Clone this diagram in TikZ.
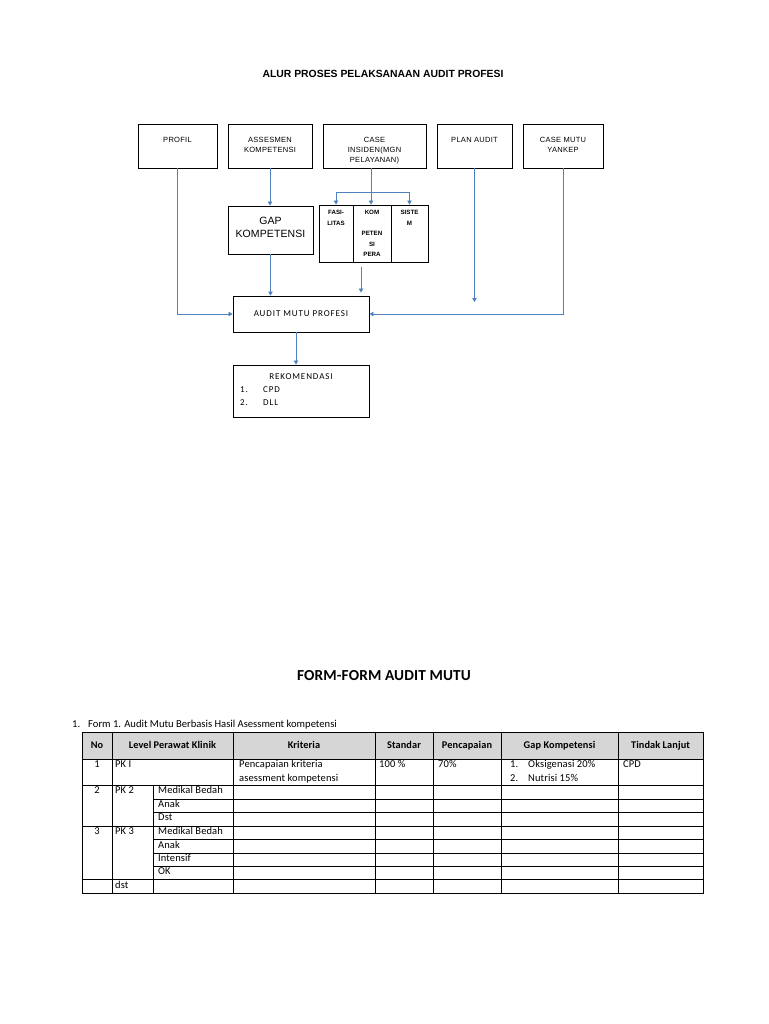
\documentclass[tikz,border=0pt]{standalone}
\usepackage{fontspec}
\setmainfont{Liberation Sans}
\newfontfamily\calibri[LetterSpace=1]{Carlito}
\newfontfamily\calibrisp[LetterSpace=10]{Carlito}
\newfontfamily\arialsp[LetterSpace=4]{Liberation Sans}
\newfontfamily\arialgap[LetterSpace=1]{Liberation Sans}
\usetikzlibrary{arrows.meta,calc}
\definecolor{arrblue}{HTML}{4F81BD}
\definecolor{hdrgray}{HTML}{D6D6D6}

\begin{document}
\begin{tikzpicture}[x=1pt,y=-1pt,
  box/.style={draw,line width=0.9pt,inner sep=0pt},
  toplbl/.style={anchor=north,inner sep=0pt,yshift=-13.5pt,align=center,font=\arialsp\fontsize{7.5}{10}\selectfont},
  gaplbl/.style={anchor=north,inner sep=0pt,yshift=-11.5pt,align=center,font=\arialgap\fontsize{10.5}{13}\selectfont},
  tinylbl/.style={anchor=north,inner sep=0pt,yshift=-5.5pt,align=center,font=\bfseries\fontsize{6.2}{10.5}\selectfont},
  ftxt/.style={inner sep=0pt,font=\calibrisp\fontsize{9}{11}\selectfont},
  arr/.style={draw=arrblue,line width=0.8pt,-{Triangle[length=4pt,width=4.5pt]}},
  tbl/.style={line width=0.8pt},
  cell/.style={anchor=mid west,inner sep=0pt,font=\calibri\fontsize{10.5}{12}\selectfont},
  hcell/.style={anchor=mid,inner sep=0pt,font=\calibri\bfseries\fontsize{10.3}{12}\selectfont}]
\fill[white] (0,0) rectangle (768,1024);
\useasboundingbox (0,0) rectangle (768,1024);

\node[font=\bfseries\fontsize{10.4}{12}\selectfont] (title) at (383,74) {ALUR PROSES PELAKSANAAN AUDIT PROFESI};

% top row
\node[box,minimum width=79pt,minimum height=44pt,label={[toplbl]north:PROFIL}] (profil) at (177.5,146) {};
\node[box,minimum width=84pt,minimum height=44pt,label={[toplbl]north:{ASSESMEN\\KOMPETENSI}}] (assesmen) at (270,146) {};
\node[box,minimum width=103pt,minimum height=44pt,label={[toplbl]north:{CASE\\INSIDEN(MGN\\PELAYANAN)}}] (case) at (374.5,146) {};
\node[box,minimum width=75pt,minimum height=44pt,label={[toplbl]north:PLAN AUDIT}] (plan) at (474.5,146) {};
\node[box,minimum width=80pt,minimum height=44pt,label={[toplbl]north:{CASE MUTU\\YANKEP}}] (casemutu) at (563,146) {};

% second row
\node[box,minimum width=85pt,minimum height=48pt,label={[gaplbl]north:{GAP\\KOMPETENSI}}] (gap) at (270.5,230) {};
\node[box,minimum width=34pt,minimum height=57pt,label={[tinylbl]north:{FASI-\\LITAS}}] (fasi) at (336,233.5) {};
\node[box,minimum width=38pt,minimum height=57pt,label={[tinylbl]north:{KOM\\[10.5pt]PETEN\\SI\\PERA}}] (kom) at (372,233.5) {};
\node[box,minimum width=37pt,minimum height=57pt,label={[tinylbl]north:{SISTE\\M}}] (sistem) at (409.5,233.5) {};

% audit and rekomendasi
\node[box,minimum width=136pt,minimum height=36pt,ftxt] (audit) at (301,314) {AUDIT MUTU PROFESI};
\node[box,minimum width=136pt,minimum height=52pt] (rekom) at (301,391) {};
\node[ftxt,anchor=mid] (rektitle) at (301,377) {REKOMENDASI};
\node[ftxt,anchor=mid west] (rek1) at (240,390) {1.};
\node[ftxt,anchor=mid west] (cpd) at (263,390) {CPD};
\node[ftxt,anchor=mid west] (rek2) at (240,403) {2.};
\node[ftxt,anchor=mid west] (dll) at (263,403) {DLL};

% connectors
\coordinate (split) at (371,192);
\coordinate (komout) at (361,267);
\coordinate (planend) at (474.5,302);
\draw[arr] (profil.south) |- (audit.west);
\draw[arr] (assesmen.south) -- (assesmen.south |- gap.north);
\draw[arr] (gap.south) -- (gap.south |- audit.north);
\draw[draw=arrblue,line width=0.8pt] (case.south -| split) -- (split);
\draw[arr] (split) -| (fasi.north);
\draw[arr] (split) -| (sistem.north);
\draw[arr] (split) -- (split |- kom.north);
\draw[arr,shorten >=3pt] (komout) -- (komout |- audit.north);
\draw[arr] (plan.south) -- (planend);
\draw[arr] (casemutu.south) |- (audit.east);
\draw[arr] ([xshift=-5pt]audit.south) -- ([xshift=-5pt]rekom.north);

% forms
\node[font=\calibri\bfseries\fontsize{15.3}{18}\selectfont] (formtitle) at (384,676) {FORM-FORM AUDIT MUTU};
\node[cell] (formno) at (72,725) {1.};
\node[cell,font=\fontspec{Carlito}\fontsize{10.6}{12}\selectfont] (formname) at (88,725) {Form 1. Audit Mutu Berbasis Hasil Asessment kompetensi};

\fill[hdrgray] (82,732) rectangle (703,759);
\draw[tbl] (82,732) rectangle (703,893);
\foreach \x in {112,233,375,433,501,618}
  \draw[tbl] (\x,732) -- (\x,893);
\draw[tbl] (153,785) -- (153,893);
\foreach \y in {759,785,826,879}
  \draw[tbl] (82,\y) -- (703,\y);
\foreach \y in {799,812,839,853,866}
  \draw[tbl] (153,\y) -- (703,\y);

% header
\node[hcell] (hno) at (97,745.5) {No};
\node[hcell] (hlevel) at (172.5,745.5) {Level Perawat Klinik};
\node[hcell] (hkrit) at (304,745.5) {Kriteria};
\node[hcell] (hstd) at (404,745.5) {Standar};
\node[hcell] (hcapai) at (467,745.5) {Pencapaian};
\node[hcell] (hgap) at (559.5,745.5) {Gap Kompetensi};
\node[hcell] (htindak) at (660.5,745.5) {Tindak Lanjut};

% rows
\node[cell,anchor=mid] (n1) at (97,765) {1};
\node[cell] (pk1) at (115,765) {PK I};
\node[cell] (krit1) at (239,765) {Pencapaian kriteria};
\node[cell] (krit2) at (239,779) {asessment kompetensi};
\node[cell] (std1) at (379,765) {100 \%};
\node[cell] (capai1) at (438,765) {70\%};
\node[cell] (g1) at (510,765) {1.};
\node[cell] (oks) at (528,765) {Oksigenasi 20\%};
\node[cell] (g2) at (510,779) {2.};
\node[cell] (nut) at (528,779) {Nutrisi 15\%};
\node[cell] (cpd1) at (623,765) {CPD};
\node[cell,anchor=mid] (n2) at (97,791) {2};
\node[cell] (pk2) at (115,791) {PK 2};
\node[cell,anchor=mid] (n3) at (97,832) {3};
\node[cell] (pk3) at (115,832) {PK 3};
\node[cell] (dst) at (115,886) {dst};
\foreach \t/\y/\nm in {Medikal Bedah/791/a, Anak/805/b, Dst/818/c, Medikal Bedah/832/d, Anak/845.5/e, Intensif/859/f, OK/872/g}
  \node[cell] (sub\nm) at (158,\y) {\t};
\end{tikzpicture}
\end{document}
